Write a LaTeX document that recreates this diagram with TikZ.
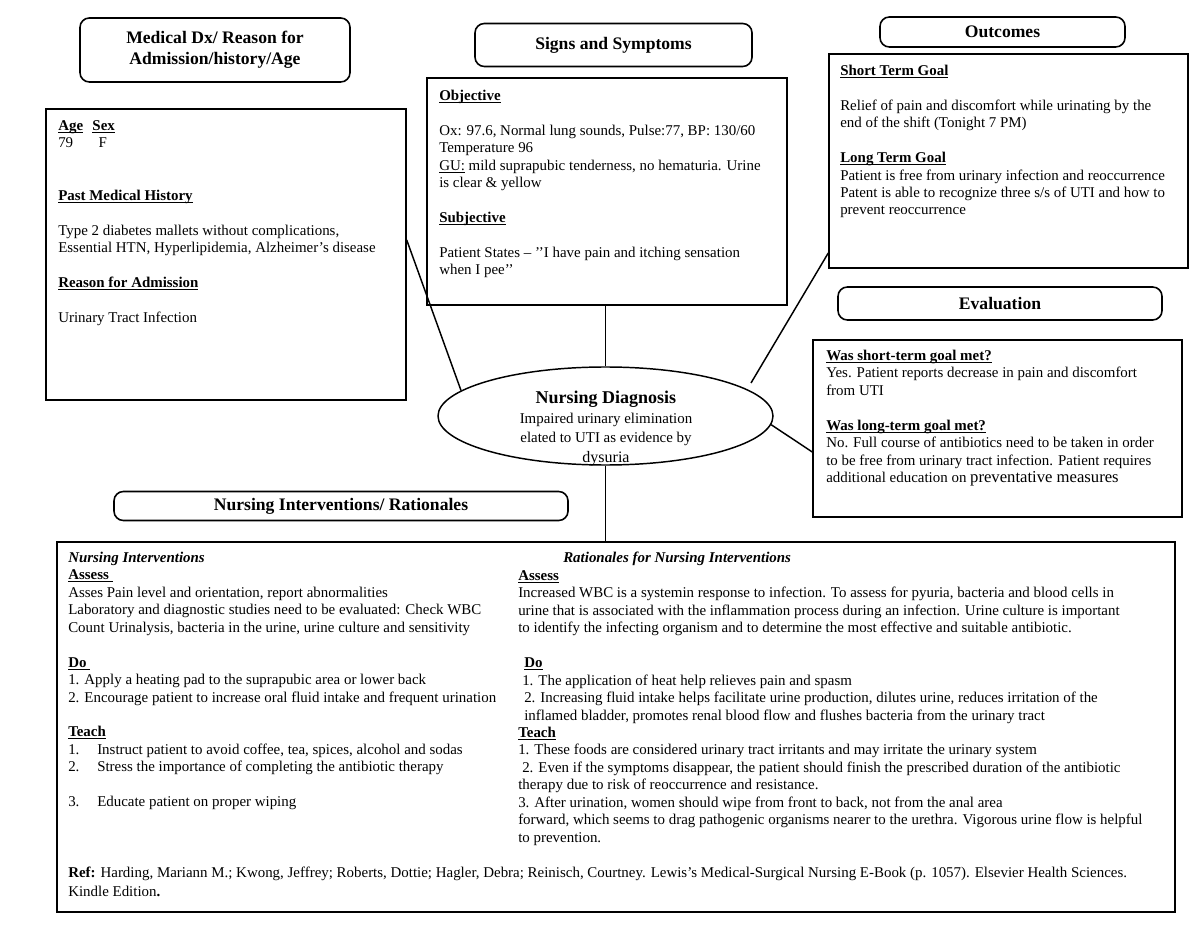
\documentclass[tikz,border=0pt]{standalone}
\usepackage{fontspec}
\setmainfont{Liberation Serif}
\usetikzlibrary{shapes.geometric}
\newcommand\ttlfont{\bfseries\fontsize{13.2}{15.75}\selectfont}
\newcommand\bdfont{\fontsize{11.2}{13.1}\selectfont}
\newcommand\numb[1]{\makebox[21.75pt][l]{#1}}
\newcommand\uln[1]{\leavevmode\setbox0=\hbox{#1}\rlap{\rule[-1.7pt]{\wd0}{0.6pt}}\box0\relax}
\newcommand\topr{\rule{0pt}{9pt}}
\tikzset{
  box/.style={draw, line width=1.1pt, inner sep=0pt},
  tbox/.style={draw, line width=1.2pt, rounded corners=7pt, align=center, font=\ttlfont, inner sep=0pt},
  body/.style={anchor=north west, align=left, inner sep=0pt, font=\bdfont},
  conn/.style={line width=1.1pt},
}
\begin{document}
\begin{tikzpicture}[x=0.75pt, y=-0.75pt]
\fill[white] (0,0) rectangle (1200,927);
\useasboundingbox (0,0) rectangle (1200,927);

% title boxes
\node[tbox, minimum width=202.5pt, minimum height=48pt] (t1) at (215,50) {Medical Dx/ Reason for\\Admission/history/Age};
\node[tbox, minimum width=207.75pt, minimum height=32.25pt] (t2) at (613.5,45) {Signs and Symptoms};
\node[tbox, minimum width=183.75pt, minimum height=22.5pt] (t3) at (1002.5,32) {Outcomes};
\node[tbox, minimum width=243pt, minimum height=24.75pt] (t4) at (1000,303.5) {Evaluation};
\node[tbox, minimum width=340.5pt, minimum height=21.75pt] (t5) at (341,506) {Nursing Interventions/ Rationales};

% content boxes
\node[box, minimum width=270pt, minimum height=218.25pt] (lbox) at (226,254.5) {};
\node[box, minimum width=270pt, minimum height=170.25pt] (mbox) at (607,191.5) {};
\node[box, minimum width=269.25pt, minimum height=160.5pt] (obox) at (1008.5,161) {};
\node[box, minimum width=276.75pt, minimum height=132.75pt] (ebox) at (997.5,428.5) {};
\node[box, line width=1.7pt, minimum width=838.5pt, minimum height=277.5pt] (bbox) at (616,727) {};
\node[ellipse, draw, line width=1.1pt, minimum width=251.25pt, minimum height=73.5pt, inner sep=0pt] (dx) at (605.5,416) {};

% connectors
\coordinate (oend) at (751,383);
\draw[conn] (lbox.east |- 0,240) -- (dx.170);
\draw[conn] (dx.north |- mbox.south) -- (dx.north);
\draw[conn] (obox.west |- 0,253) -- (oend);
\draw[conn] (dx.-3) -- (ebox.west |- 0,452);
\draw[conn] (dx.south) -- (dx.south |- bbox.north);

% ellipse text
\node[anchor=north, align=center, inner sep=0pt, font=\fontsize{11.2}{14.6}\selectfont] (dxt) at (606,389)
 {\rule{0pt}{11pt}{\bfseries\fontsize{13.5}{14.6}\selectfont Nursing Diagnosis}\\
  Impaired urinary elimination\\
  elated to UTI as evidence by\\
  {\fontsize{12}{14.6}\selectfont dysuria}};

% left box text
\node[body] (ltxt) at (58,118)
 {\topr\uln{\textbf{Age}}\hspace{7pt}\uln{\textbf{Sex}}\\
  79\hspace{19pt}F\\[26.2pt]
  \uln{\textbf{Past Medical History}}\\[13.1pt]
  Type 2 diabetes mallets without complications,\\
  Essential HTN, Hyperlipidemia, Alzheimer's disease\\[13.1pt]
  \uln{\textbf{Reason for Admission}}\\[13.1pt]
  Urinary Tract Infection};

% middle box text
\node[body] (mtxt) at (439,88)
 {\topr\uln{\textbf{Objective}}\\[13.1pt]
  Ox: 97.6, Normal lung sounds, Pulse:77, BP: 130/60\\
  Temperature 96\\
  \uln{GU:} mild suprapubic tenderness, no hematuria. Urine\\
  is clear \& yellow\\[13.1pt]
  \uln{\textbf{Subjective}}\\[13.1pt]
  Patient States – ’’I have pain and itching sensation\\
  when I pee’’};

% outcomes text
\node[body] (otxt) at (840,63)
 {\topr\uln{\textbf{Short Term Goal}}\\[13.1pt]
  Relief of pain and discomfort while urinating by the\\
  end of the shift (Tonight 7 PM)\\[13.1pt]
  \uln{\textbf{Long Term Goal}}\\
  Patient is free from urinary infection and reoccurrence\\
  Patent is able to recognize three s/s of UTI and how to\\
  prevent reoccurrence};

% evaluation text
\node[body] (etxt) at (826,348)
 {\topr\uln{\textbf{Was short-term goal met?}}\\
  Yes. Patient reports decrease in pain and discomfort\\
  from UTI\\[13.1pt]
  \uln{\textbf{Was long-term goal met?}}\\
  No. Full course of antibiotics need to be taken in order\\
  to be free from urinary tract infection. Patient requires\\
  additional education on {\fontsize{12.5}{13.1}\selectfont preventative measures}};

% bottom left column
\node[body] (ni) at (68,550)
 {\topr\textbf{\textit{Nursing Interventions}}\\
  \uln{\textbf{Assess }}\\
  Asses Pain level and orientation, report abnormalities\\
  Laboratory and diagnostic studies need to be evaluated: Check WBC\\
  Count Urinalysis, bacteria in the urine, urine culture and sensitivity\\[13.1pt]
  \uln{\textbf{Do }}\\
  1. Apply a heating pad to the suprapubic area or lower back\\
  2. Encourage patient to increase oral fluid intake and frequent urination\\[13.1pt]
  \uln{\textbf{Teach}}\\
  \numb{1.}Instruct patient to avoid coffee, tea, spices, alcohol and sodas\\
  \numb{2.}Stress the importance of completing the antibiotic therapy\\[13.1pt]
  \numb{3.}Educate patient on proper wiping};

% bottom right column
\node[body] (rt) at (563,550) {\topr\textbf{\textit{Rationales for Nursing Interventions}}};
\node[body] (rn) at (518,568)
 {\topr\uln{\textbf{Assess}}\\
  Increased WBC is a systemin response to infection. To assess for pyuria, bacteria and blood cells in\\
  urine that is associated with the inflammation process during an infection. Urine culture is important\\
  to identify the infecting organism and to determine the most effective and suitable antibiotic.\\[13.1pt]
  \hspace{4.5pt}\uln{\textbf{Do}}\\
  \hspace{3pt}1. The application of heat help relieves pain and spasm\\
  \hspace{4.5pt}2. Increasing fluid intake helps facilitate urine production, dilutes urine, reduces irritation of the\\
  \hspace{4.5pt}inflamed bladder, promotes renal blood flow and flushes bacteria from the urinary tract\\
  \uln{\textbf{Teach}}\\
  1. These foods are considered urinary tract irritants and may irritate the urinary system\\
  \hspace{3pt}2. Even if the symptoms disappear, the patient should finish the prescribed duration of the antibiotic\\
  therapy due to risk of reoccurrence and resistance.\\
  3. After urination, women should wipe from front to back, not from the anal area\\
  forward, which seems to drag pathogenic organisms nearer to the urethra. Vigorous urine flow is helpful\\
  to prevention.};

% reference
\node[body] (ref) at (68,865)
 {\topr\textbf{Ref:} Harding, Mariann M.; Kwong, Jeffrey; Roberts, Dottie; Hagler, Debra; Reinisch, Courtney. Lewis's Medical-Surgical Nursing E-Book (p. 1057). Elsevier Health Sciences.\\[1.1pt]
  Kindle Edition\textbf{.}};
\end{tikzpicture}
\end{document}
